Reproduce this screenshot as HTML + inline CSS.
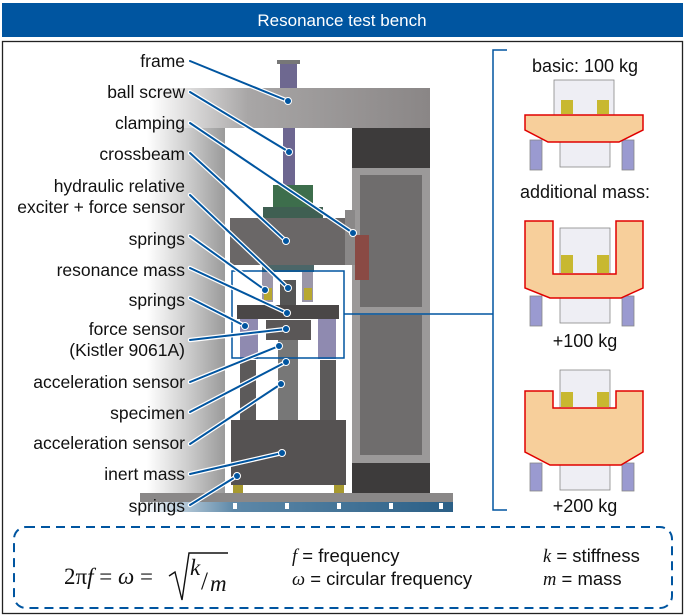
<!DOCTYPE html>
<html><head><meta charset="utf-8"><style>
html,body{margin:0;padding:0;background:#fff;}
svg{display:block;font-family:"Liberation Sans",Arial,sans-serif;}
</style></head><body>
<svg width="685" height="616" viewBox="0 0 685 616" xmlns="http://www.w3.org/2000/svg">
<defs>
<linearGradient id="lg" x1="0" x2="1" y1="0" y2="0">
<stop offset="0" stop-color="#fff"/><stop offset="0.5" stop-color="#cfcfcf"/><stop offset="1" stop-color="#9a9a9a"/></linearGradient>
<linearGradient id="beam" x1="0" x2="1" y1="0" y2="0">
<stop offset="0" stop-color="#fff"/><stop offset="0.35" stop-color="#a8a6a6"/><stop offset="1" stop-color="#8a8686"/></linearGradient>
<linearGradient id="base" x1="0" x2="1" y1="0" y2="0">
<stop offset="0" stop-color="#fff"/><stop offset="0.3" stop-color="#5d88a8"/><stop offset="1" stop-color="#2b5f86"/></linearGradient>
</defs>
<rect x="2" y="3" width="681" height="34" fill="#0055a0"/>
<text x="342" y="26" font-size="17" fill="#fff" text-anchor="middle">Resonance test bench</text>
<rect x="2.5" y="41.5" width="680" height="572" fill="none" stroke="#222" stroke-width="1.3"/>

<!-- machine -->
<rect x="147" y="128" width="78" height="370" fill="url(#lg)"/>
<rect x="150" y="88" width="280" height="40" fill="url(#beam)"/>
<rect x="280" y="60" width="17" height="28" fill="#6e6890"/>
<rect x="277" y="60" width="23" height="4" fill="#777"/>
<rect x="283" y="128" width="12" height="57" fill="#6d6690"/>
<rect x="352" y="128" width="78" height="40" fill="#3d3b3b"/>
<rect x="352" y="168" width="78" height="327" fill="#9b9999"/>
<rect x="360" y="175" width="62" height="132" fill="#6f6d6d"/>
<rect x="360" y="315" width="62" height="140" fill="#6f6d6d"/>
<rect x="352" y="463" width="78" height="32" fill="#3d3b3b"/>
<rect x="355" y="235" width="14" height="45" fill="#8a4a44"/>
<rect x="230" y="218" width="116" height="47" fill="#6a6767"/>
<rect x="345" y="210" width="10" height="55" fill="#8a8888"/>
<rect x="273" y="185" width="40" height="33" fill="#3d6e4c"/>
<rect x="263" y="207" width="60" height="11" fill="#3f5f52"/>
<rect x="262" y="265" width="52" height="7" fill="#4b6668"/>
<rect x="262" y="272" width="11" height="30" fill="#9a96a8"/>
<rect x="302" y="272" width="11" height="30" fill="#9a96a8"/>
<rect x="264" y="288" width="8" height="12" fill="#b8a830"/>
<rect x="304" y="288" width="8" height="12" fill="#b8a830"/>
<rect x="280" y="280" width="16" height="25" fill="#555"/>
<rect x="237" y="305" width="102" height="14" fill="#4a4747"/>
<rect x="240" y="319" width="18" height="40" fill="#8f8ab0"/>
<rect x="318" y="319" width="18" height="40" fill="#8f8ab0"/>
<rect x="266" y="320" width="45" height="20" fill="#5a5757"/>
<rect x="278" y="340" width="20" height="80" fill="#777"/>
<rect x="240" y="360" width="16" height="60" fill="#5c5a5a"/>
<rect x="320" y="360" width="16" height="60" fill="#5c5a5a"/>
<rect x="231" y="420" width="115" height="65" fill="#555252"/>
<rect x="233" y="485" width="10" height="9" fill="#a89a30"/>
<rect x="334" y="485" width="10" height="9" fill="#a89a30"/>
<rect x="140" y="493" width="313" height="9" fill="#8a8888"/>
<rect x="140" y="502" width="313" height="10" fill="url(#base)"/>
<g fill="#fff"><rect x="233" y="503" width="4" height="6"/><rect x="285" y="503" width="4" height="6"/><rect x="337" y="503" width="4" height="6"/><rect x="389" y="503" width="4" height="6"/><rect x="439" y="503" width="4" height="6"/></g>
<rect x="232" y="271" width="112" height="87" fill="none" stroke="#0055a0" stroke-width="1.5"/>
<line x1="344" y1="314" x2="493" y2="314" stroke="#0055a0" stroke-width="1.5"/>
<path d="M507 50 H493 V510 H507" fill="none" stroke="#0055a0" stroke-width="1.5"/>

<!-- leaders -->
<g stroke="#fff" stroke-width="4.5" stroke-linecap="round" fill="none">
<path d="M190 61 L288 101 M190 92 L289 152 M190 123 L353 233 M190 153 L286 241 M190 195 L288 288 M190 236 L265 290 M190 268 L287 313 M190 298 L245 326 M190 340 L286 329 M190 382 L279 346 M190 412 L286 362 M190 444 L281 384 M190 474 L282 453 M190 505 L237 476"/>
</g>
<g stroke="#0055a0" stroke-width="2" stroke-linecap="round" fill="none">
<path d="M190 61 L288 101 M190 92 L289 152 M190 123 L353 233 M190 153 L286 241 M190 195 L288 288 M190 236 L265 290 M190 268 L287 313 M190 298 L245 326 M190 340 L286 329 M190 382 L279 346 M190 412 L286 362 M190 444 L281 384 M190 474 L282 453 M190 505 L237 476"/>
</g>
<g fill="#0055a0" stroke="#fff" stroke-width="1">
<circle cx="288" cy="101" r="3.5"/><circle cx="289" cy="152" r="3.5"/><circle cx="353" cy="233" r="3.5"/><circle cx="286" cy="241" r="3.5"/><circle cx="288" cy="288" r="3.5"/><circle cx="265" cy="290" r="3.5"/><circle cx="287" cy="313" r="3.5"/><circle cx="245" cy="326" r="3.5"/><circle cx="286" cy="329" r="3.5"/><circle cx="279" cy="346" r="3.5"/><circle cx="286" cy="362" r="3.5"/><circle cx="281" cy="384" r="3.5"/><circle cx="282" cy="453" r="3.5"/><circle cx="237" cy="476" r="3.5"/>
</g>
<g font-size="17.5" fill="#111" text-anchor="end">
<text x="185" y="67">frame</text>
<text x="185" y="98">ball screw</text>
<text x="185" y="129">clamping</text>
<text x="185" y="160">crossbeam</text>
<text x="185" y="192">hydraulic relative</text>
<text x="185" y="213">exciter + force sensor</text>
<text x="185" y="245">springs</text>
<text x="185" y="276">resonance mass</text>
<text x="185" y="306">springs</text>
<text x="185" y="335">force sensor</text>
<text x="185" y="356">(Kistler 9061A)</text>
<text x="185" y="388">acceleration sensor</text>
<text x="185" y="419">specimen</text>
<text x="185" y="449">acceleration sensor</text>
<text x="185" y="480">inert mass</text>
<text x="185" y="512">springs</text>
</g>

<!-- right panel -->
<g font-size="18" fill="#111" text-anchor="middle">
<text x="585" y="72">basic: 100 kg</text>
<text x="585" y="198">additional mass:</text>
<text x="585" y="347">+100 kg</text>
<text x="585" y="512">+200 kg</text>
</g>
<g fill="#eeeef4" stroke="#888" stroke-width="0.8">
<rect x="554" y="80" width="60" height="35"/>
<rect x="530" y="140" width="12" height="30" fill="#9a9ad0"/><rect x="622" y="140" width="12" height="30" fill="#9a9ad0"/>
<rect x="560" y="142" width="50" height="25"/>
<rect x="560" y="228" width="50" height="46"/>
<rect x="530" y="296" width="12" height="30" fill="#9a9ad0"/><rect x="622" y="296" width="12" height="30" fill="#9a9ad0"/>
<rect x="560" y="298" width="50" height="25"/>
<rect x="560" y="370" width="50" height="38"/>
<rect x="530" y="463" width="12" height="28" fill="#9a9ad0"/><rect x="622" y="463" width="12" height="28" fill="#9a9ad0"/>
<rect x="560" y="465" width="50" height="25"/>
</g>
<g fill="#c8b830"><rect x="561" y="100" width="12" height="14"/><rect x="597" y="100" width="12" height="14"/>
<rect x="561" y="255" width="12" height="18"/><rect x="597" y="255" width="12" height="18"/>
<rect x="561" y="392" width="12" height="15"/><rect x="597" y="392" width="12" height="15"/></g>
<g fill="#f7cf9b" stroke="#e00000" stroke-width="1.5">
<path d="M525 115 H643 V130 L619 142 H548 L525 130 Z"/>
<path d="M525 221 H553 V274 H616 V221 H643 V288 L621 298 H550 L525 288 Z"/>
<path d="M525 391 H553 V408 H616 V391 H643 V452 L621 465 H550 L525 452 Z"/>
</g>

<!-- formula box -->
<rect x="14" y="527" width="658" height="81" rx="12" fill="none" stroke="#0055a0" stroke-width="2" stroke-dasharray="9,6"/>
<g font-family="'Liberation Serif',serif" font-size="23" fill="#111">
<text x="64" y="584">2π<tspan font-style="italic">f</tspan> = <tspan font-style="italic">ω</tspan> =</text>
<text x="190" y="575" font-style="italic">k</text>
<text x="201" y="589" font-size="25">/</text>
<text x="210" y="591" font-style="italic">m</text>
</g>
<path d="M169 576 L175 572 L182 600 L189 553 H228" fill="none" stroke="#111" stroke-width="1.4"/>
<g font-size="18.5" fill="#111">
<text x="292" y="562"><tspan font-family="'Liberation Serif',serif" font-style="italic">f</tspan> = frequency</text>
<text x="292" y="585"><tspan font-family="'Liberation Serif',serif" font-style="italic">ω</tspan> = circular frequency</text>
<text x="543" y="562"><tspan font-family="'Liberation Serif',serif" font-style="italic">k</tspan> = stiffness</text>
<text x="543" y="585"><tspan font-family="'Liberation Serif',serif" font-style="italic">m</tspan> = mass</text>
</g>
</svg>
</body></html>
